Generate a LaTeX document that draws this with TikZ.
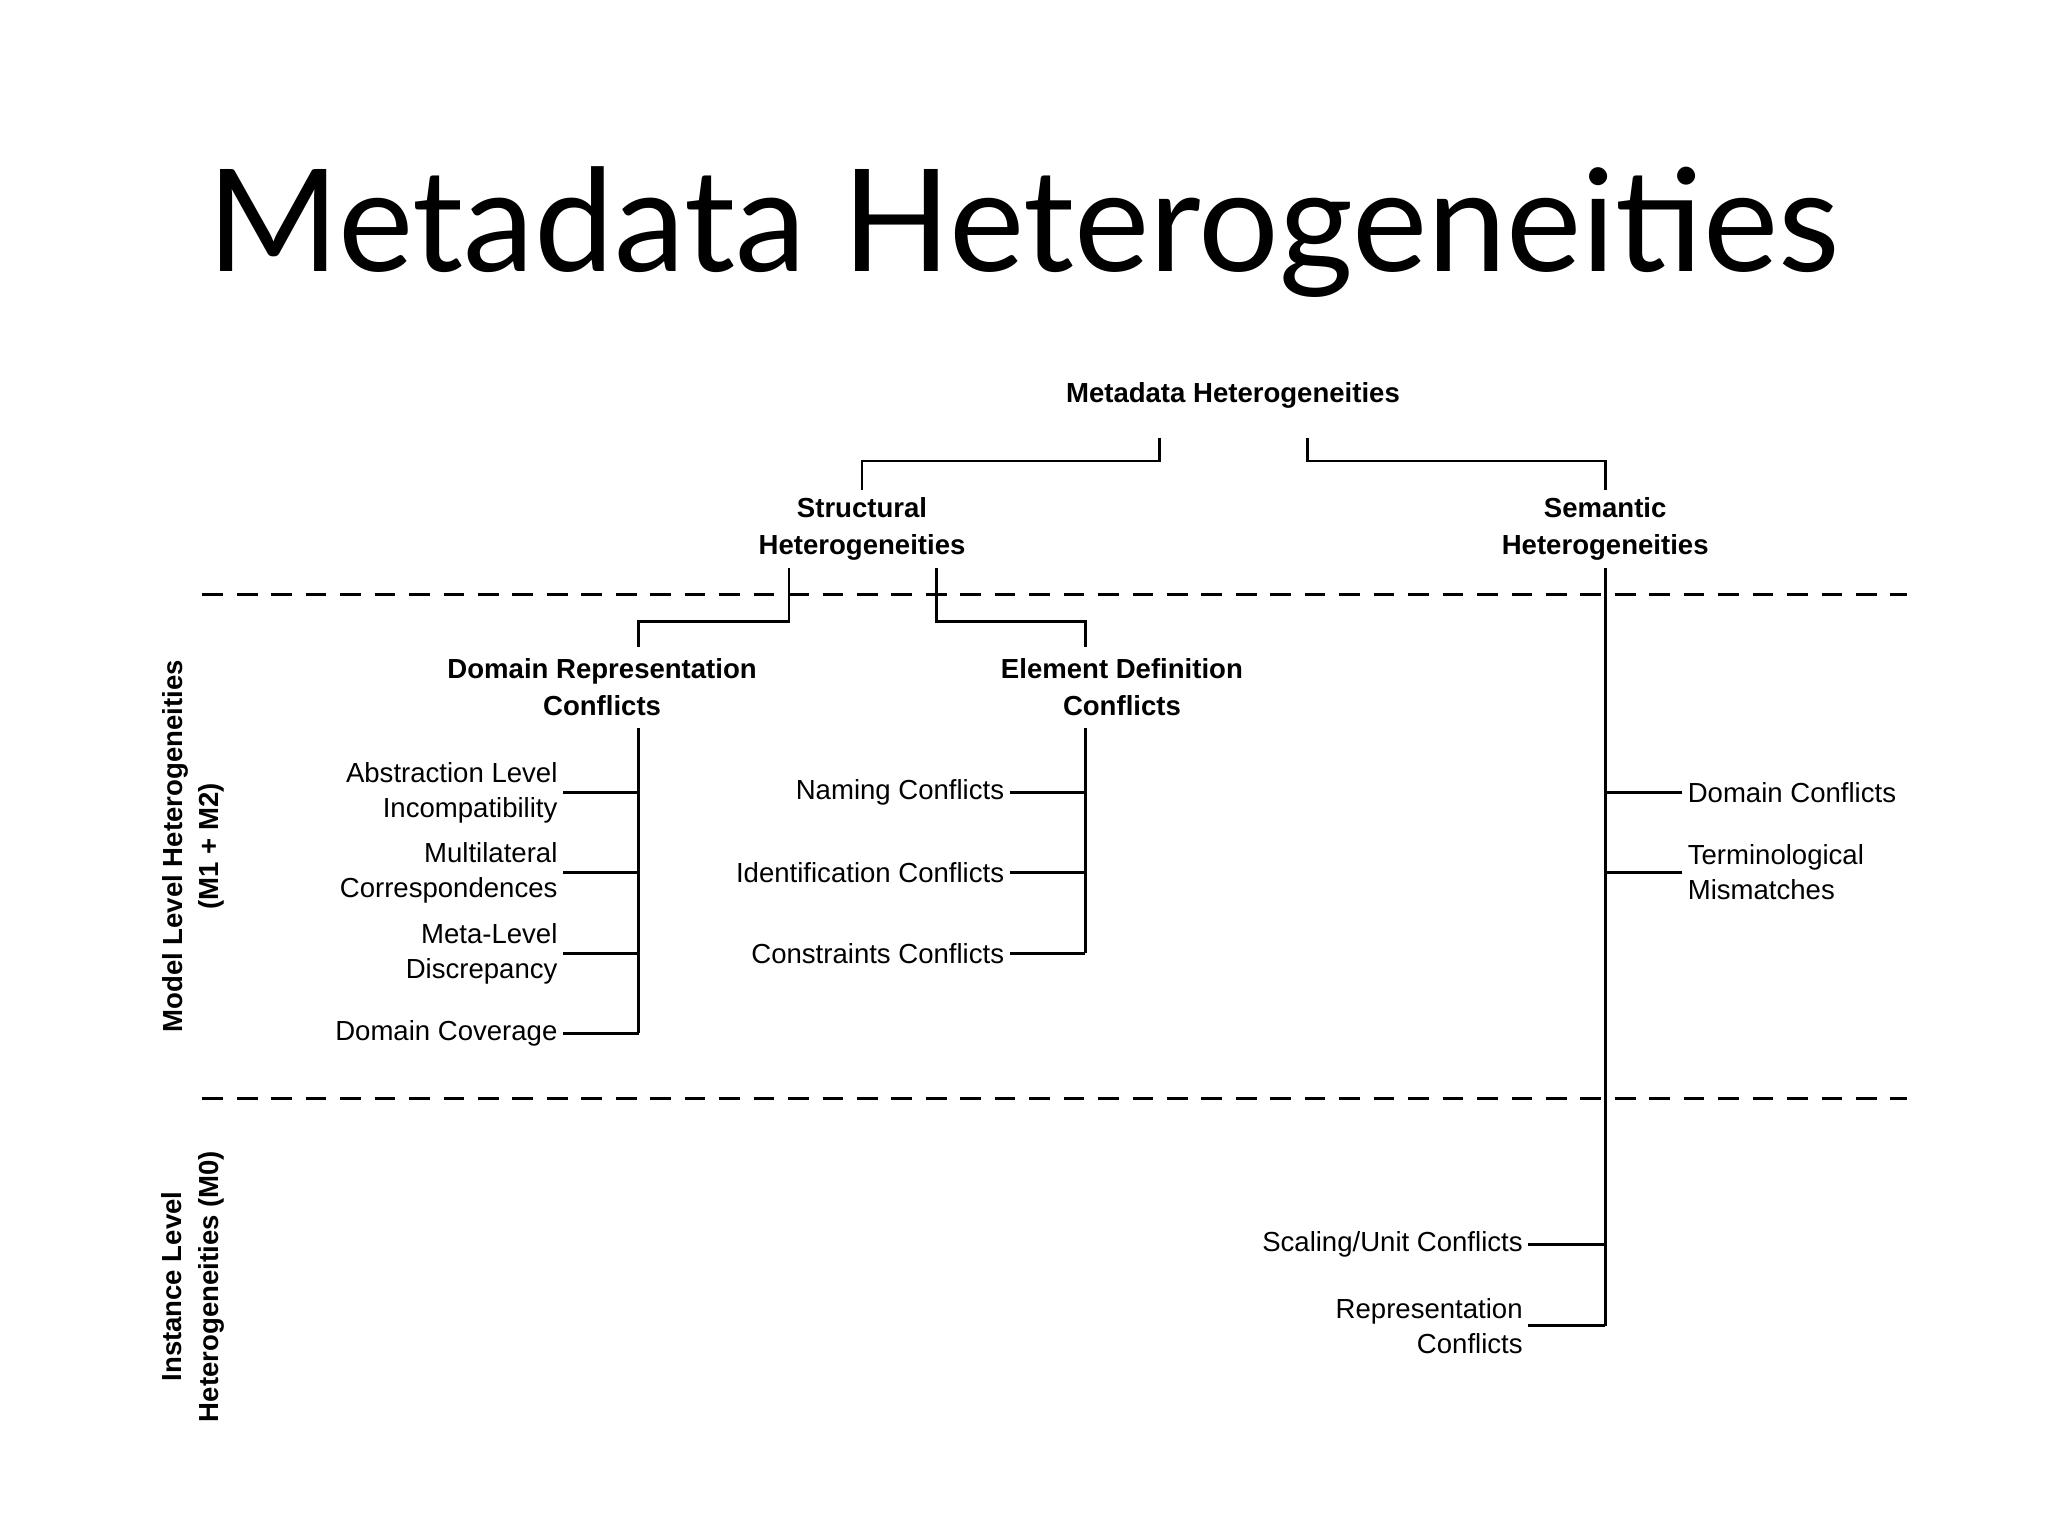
\documentclass[tikz,border=0pt]{standalone}
\usepackage{fontspec}
\setmainfont{Liberation Sans}
\newfontfamily\titlefont{Lato}
\begin{document}
\begin{tikzpicture}[x=0.01cm,y=-0.01cm,
  lbl/.style={font=\fontsize{6}{7.6}\selectfont,inner sep=1pt,align=center},
  bl/.style={lbl,font=\fontsize{6}{8}\selectfont\bfseries},
  ln/.style={line width=0.6pt},
  dl/.style={line width=0.7pt,dash pattern=on 4.5pt off 3pt}]
\useasboundingbox (0,0) rectangle (1568,1176);
\node[font=\titlefont\fontsize{31}{34}\selectfont] (title) at (784,178) {Metadata Heterogeneities};
\node[bl] (root) at (944,303) {Metadata Heterogeneities};
\node[bl] (str) at (660,405) {Structural\\Heterogeneities};
\node[bl] (sem) at (1229,405) {Semantic\\Heterogeneities};
\node[bl] (drc) at (461,526) {Domain Representation\\Conflicts};
\node[bl] (edc) at (859,526) {Element Definition\\Conflicts};
\draw[dl] (155,455) coordinate (d1a) -- (1460,455) coordinate (d1b);
\draw[dl] (155,841) coordinate (d2a) -- (1460,841) coordinate (d2b);
\draw[ln] (888,335) |- (660,353) -- (660,375);
\draw[ln] (1001,335) |- (1229,353) -- (1229,375);
\draw[ln] (604,435) |- (489,476) -- (489,495);
\draw[ln] (717,435) |- (831,476) -- (831,495);
% domain representation
\draw[ln] (489,557) -- (489,791);
\foreach \y/\t in {607/{Abstraction Level\\Incompatibility},668/{Multilateral\\Correspondences},730/{Meta-Level\\Discrepancy},791/{Domain Coverage}}{
  \node[lbl,anchor=east,align=right] (a\y) at (431,\y) {\t};
  \draw[ln] (a\y.east) -- (489,\y);}
\draw[ln] (831,557) -- (831,730);
\foreach \y/\t in {607/{Naming Conflicts},668/{Identification Conflicts},730/{Constraints Conflicts}}{
  \node[lbl,anchor=east,align=right] (e\y) at (773,\y) {\t};
  \draw[ln] (e\y.east) -- (831,\y);}
\draw[ln] (1229,435) -- (1229,1015);
\foreach \y/\t in {607/{Domain Conflicts},668/{Terminological\\Mismatches}}{
  \node[lbl,anchor=west,align=left] (s\y) at (1288,\y) {\t};
  \draw[ln] (s\y.west) -- (1229,\y);}
\foreach \y/\t in {953/{Scaling/Unit Conflicts},1015/{Representation\\Conflicts}}{
  \node[lbl,anchor=east,align=right] (i\y) at (1170,\y) {\t};
  \draw[ln] (i\y.east) -- (1229,\y);}
\node[bl,rotate=90] (ml) at (148,648) {Model Level Heterogeneities\\(M1 + M2)};
\node[bl,rotate=90] (il) at (148,985) {Instance Level\\Heterogeneities (M0)};
\end{tikzpicture}
\end{document}
